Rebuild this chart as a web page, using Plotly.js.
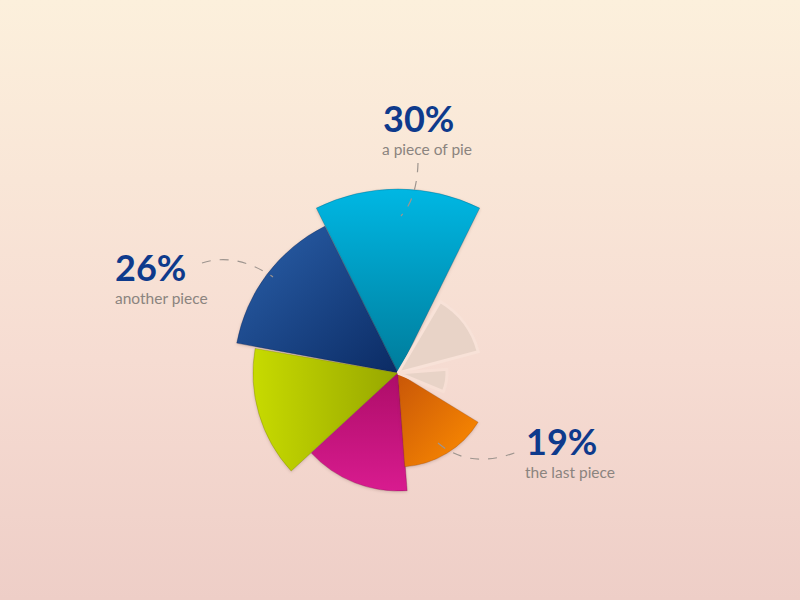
<!DOCTYPE html>
<html>
<head>
<meta charset="utf-8">
<script src="https://cdn.plot.ly/plotly-3.0.1.min.js"></script>
<style>
  html, body { margin:0; padding:0; width:800px; height:600px; overflow:hidden;
    background: linear-gradient(to bottom, #fcf0dc 0%, #f6dcd2 60%, #eecec7 100%); }
  #chart { width:800px; height:600px; }
</style>
</head>
<body>
<div id="chart"></div>
<script>
// Slice data
var sliceNames  = ["a piece of pie", "another piece", "green piece", "magenta piece", "the last piece", "grey piece", "small grey piece"];
var sliceRadius = [184, 164, 145, 118, 94, 83, 49];
var sliceTheta  = [90, 143, 196.4, 248.6, 301.3, 37.2, 351];
var sliceWidth  = [52.7, 53, 52.3, 51.7, 54.3, 44.5, 26.7];
var sliceColors = ["#00a3c9", "#1c4b8f", "#b2c300", "#c8137f", "#e8720b", "#e8d3c7", "#e8d3c7"];
var lineColors  = ["rgba(0,70,100,0.35)", "rgba(10,30,80,0.4)", "rgba(90,100,0,0.35)", "rgba(110,0,60,0.35)", "rgba(140,60,0,0.35)", "#f8e2d8", "#f7dfd5"];
var lineWidths  = [0.8, 0.8, 0.8, 0.8, 0.8, 3, 3];
// gradient stops per slice (start colour, end colour, direction x1,y1,x2,y2)
var gradStart = ["#00b7e3", "#2b61ab", "#c7da00", "#ad0d68", "#c85608", null, null];
var gradEnd   = ["#007c9b", "#0b2b64", "#97a700", "#d81b8f", "#ff8e00", null, null];
var gradDir   = [[0,0,0,1], [0,0,1,1], [0,0,1,0], [0,0,0,1], [0,0,1,1], null, null];

// Callout labels
var calloutValues = ["30%", "26%", "19%"];
var calloutTexts  = ["a piece of pie", "another piece", "the last piece"];

var trace = {
  type: "barpolar",
  r: sliceRadius,
  theta: sliceTheta,
  width: sliceWidth,
  text: sliceNames,
  marker: { color: sliceColors, line: { color: lineColors, width: lineWidths }, opacity: 1 },
  hoverinfo: "none"
};

var navy = "#0e3a8c";
var grey = "#8b847f";
var fontFam = "Lato, 'Open Sans', sans-serif";
var bigFont = { family: fontFam, size: 36, color: navy };
var smallFont = { family: fontFam, size: 15.5, color: grey };

function px(x) { return x / 800; }
function py(y) { return 1 - y / 600; }

function label(text, x, yMid, font) {
  return { x: px(x), y: py(yMid), xref: "paper", yref: "paper", showarrow: false,
           xanchor: "left", yanchor: "middle", align: "left", text: text, font: font };
}
var annotations = [
  label("<b>" + calloutValues[0] + "</b>", 381, 118.1, bigFont),
  label(calloutTexts[0], 380, 149.2, smallFont),
  label("<b>" + calloutValues[1] + "</b>", 113, 266.6, bigFont),
  label(calloutTexts[1], 113, 297.7, smallFont),
  label("<b>" + calloutValues[2] + "</b>", 524, 441.1, bigFont),
  label(calloutTexts[2], 523, 472.2, smallFont)
];

function qpath(p0, c, p1) {
  return "M " + px(p0[0]) + "," + py(p0[1]) + " Q " + px(c[0]) + "," + py(c[1]) + " " + px(p1[0]) + "," + py(p1[1]);
}
var dashLine = { color: "#9e958f", width: 1.2, dash: "dash" };
var shapes = [
  { type: "path", xref: "paper", yref: "paper", path: qpath([418, 163], [417, 198], [401, 216]), line: dashLine },
  { type: "path", xref: "paper", yref: "paper", path: qpath([202, 263], [236, 252], [273, 277]), line: dashLine },
  { type: "path", xref: "paper", yref: "paper", path: qpath([438, 443], [470, 470], [517, 452]), line: dashLine }
];

var layout = {
  width: 800, height: 600,
  margin: { l: 0, r: 0, t: 0, b: 0 },
  paper_bgcolor: "rgba(0,0,0,0)",
  plot_bgcolor: "rgba(0,0,0,0)",
  showlegend: false,
  polar: {
    domain: { x: [198 / 800, 598 / 800], y: [27 / 600, 427 / 600] },
    bgcolor: "rgba(0,0,0,0)",
    bargap: 0,
    radialaxis: { visible: false, range: [0, 200] },
    angularaxis: { visible: false, direction: "counterclockwise", rotation: 0 }
  },
  annotations: annotations,
  shapes: shapes
};

Plotly.newPlot("chart", [trace], layout, { staticPlot: true, displayModeBar: false }).then(function (gd) {
  // shade the coloured slices with soft gradients and a light shadow like the reference
  var svg = gd.querySelector(".main-svg");
  var ns = "http://www.w3.org/2000/svg";
  var defs = svg.querySelector("defs") || svg.insertBefore(document.createElementNS(ns, "defs"), svg.firstChild);
  var paths = gd.querySelectorAll(".polarlayer .trace .point path");
  paths.forEach(function (p, i) {
    if (!gradStart[i]) return;
    var g = document.createElementNS(ns, "linearGradient");
    g.setAttribute("id", "sliceGrad" + i);
    var d = gradDir[i];
    g.setAttribute("x1", d[0]); g.setAttribute("y1", d[1]);
    g.setAttribute("x2", d[2]); g.setAttribute("y2", d[3]);
    [[0, gradStart[i]], [1, gradEnd[i]]].forEach(function (s) {
      var st = document.createElementNS(ns, "stop");
      st.setAttribute("offset", s[0]);
      st.setAttribute("stop-color", s[1]);
      g.appendChild(st);
    });
    defs.appendChild(g);
    p.style.fill = "url(#sliceGrad" + i + ")";
    p.style.filter = "drop-shadow(0px 1px 1.5px rgba(90,50,40,0.22))";
  });
});
</script>
</body>
</html>
